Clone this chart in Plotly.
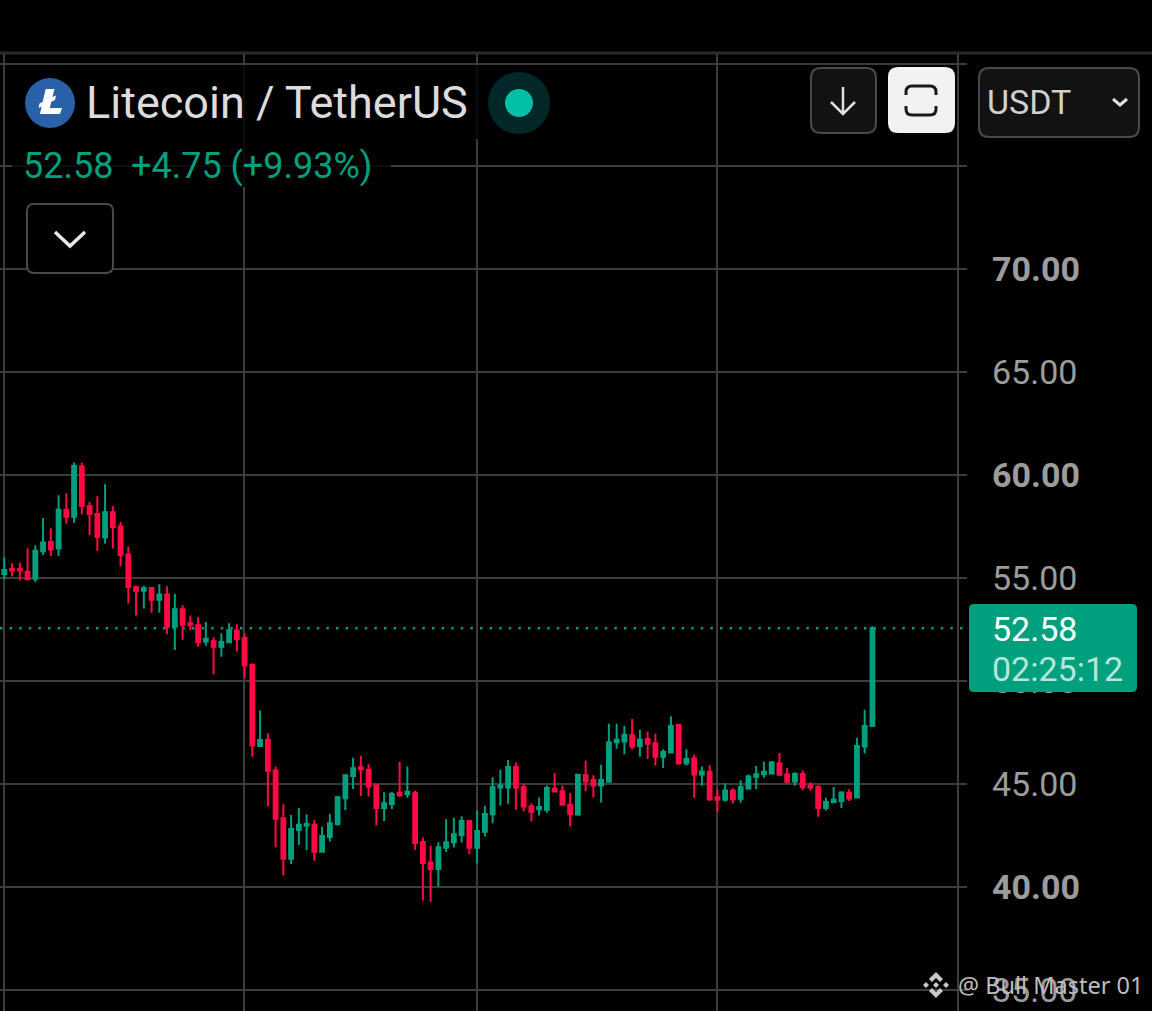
# litecoin candle chart, dark mobile view
import re
import plotly.graph_objs as go

W = 1152
H = 1011
GREEN = "#00a07f"
RED = "#ff0a45"

opens = [55.22, 55.46, 55.46, 55.32, 54.99, 56.32, 56.77, 56.45, 58.33, 58.00,
         60.43, 58.52, 58.13, 57.00, 58.21, 57.52, 56.16, 54.59, 54.40, 54.54,
         53.97, 54.22, 52.65, 53.50, 52.83, 52.73, 51.94, 51.95, 51.69, 51.90,
         52.47, 52.11, 50.80, 46.87, 47.16, 45.67, 43.36, 41.39, 42.79, 43.00,
         43.04, 41.73, 42.45, 43.08, 44.33, 45.41, 45.83, 45.71, 44.95, 43.86,
         44.05, 44.59, 44.52, 44.57, 42.21, 41.21, 40.90, 41.92, 42.19, 42.55,
         43.23, 41.92, 42.70, 43.55, 44.85, 44.85, 45.84, 44.87, 43.93, 43.80,
         43.77, 44.79, 44.67, 44.01, 43.54, 45.45, 45.22, 44.95, 45.13, 47.05,
         47.08, 47.39, 46.87, 47.20, 47.00, 46.34, 46.55, 47.89, 46.03, 46.26,
         45.48, 45.61, 44.38, 44.25, 44.70, 44.30, 44.80, 45.37, 45.50, 45.53,
         46.03, 45.48, 45.14, 45.51, 44.95, 44.88, 43.86, 44.14, 44.19, 44.59,
         44.36, 46.84, 47.84]
highs = [56.03, 55.74, 55.77, 56.47, 56.61, 57.94, 57.44, 59.04, 59.14, 60.63,
         60.63, 58.72, 58.99, 59.57, 58.52, 57.74, 56.55, 54.64, 54.64, 54.59,
         54.72, 54.62, 54.25, 53.70, 53.20, 53.12, 52.89, 52.15, 52.34, 52.83,
         52.78, 52.31, 50.88, 48.59, 47.49, 45.87, 44.04, 43.52, 43.85, 43.55,
         43.28, 42.95, 43.57, 44.44, 45.48, 46.29, 46.39, 45.98, 45.03, 44.62,
         44.65, 46.09, 45.87, 44.70, 42.42, 42.02, 42.19, 43.31, 43.38, 43.46,
         43.23, 43.73, 43.97, 45.35, 45.71, 46.19, 46.06, 45.03, 44.09, 44.37,
         44.95, 45.55, 44.93, 44.58, 45.51, 46.15, 45.45, 45.95, 47.94, 47.94,
         47.84, 48.18, 47.65, 47.57, 47.46, 46.71, 48.31, 47.89, 46.71, 46.44,
         45.87, 45.93, 44.77, 45.06, 44.82, 45.20, 45.48, 45.89, 46.11, 46.14,
         46.52, 45.80, 45.59, 45.67, 45.11, 44.96, 44.35, 44.87, 44.67, 44.77,
         47.26, 48.62, 52.68]
lows = [54.96, 55.09, 54.90, 54.96, 54.83, 56.14, 56.09, 56.09, 57.65, 57.71,
        58.12, 57.11, 56.34, 56.69, 56.45, 55.59, 53.78, 53.20, 53.54, 53.34,
        53.34, 52.29, 51.53, 52.02, 52.49, 51.69, 51.73, 50.35, 51.20, 51.89,
        51.45, 50.16, 46.34, 46.84, 43.93, 41.95, 40.58, 41.14, 42.06, 41.82,
        41.29, 41.73, 42.23, 42.99, 43.76, 44.78, 44.44, 44.41, 43.00, 43.23,
        43.81, 44.39, 44.35, 41.82, 39.36, 39.31, 40.04, 41.72, 41.94, 42.18,
        41.61, 41.17, 42.47, 43.12, 43.98, 44.06, 43.77, 43.70, 43.20, 43.49,
        43.62, 44.64, 44.01, 42.96, 43.48, 44.67, 44.37, 44.12, 45.10, 46.73,
        46.47, 46.70, 46.34, 46.24, 45.92, 45.80, 46.55, 45.95, 45.92, 44.35,
        44.93, 44.20, 43.67, 44.17, 44.07, 44.11, 44.74, 44.78, 45.32, 45.50,
        45.47, 45.05, 44.95, 44.72, 44.70, 43.43, 43.73, 44.11, 43.86, 44.19,
        44.36, 46.50, 47.84]
closes = [55.41, 55.38, 55.38, 54.96, 56.35, 56.74, 56.42, 58.33, 58.00, 60.46,
          58.52, 58.13, 57.03, 58.21, 57.49, 56.14, 54.59, 54.40, 54.52, 53.97,
          54.22, 52.65, 53.50, 52.75, 52.73, 51.90, 52.07, 51.69, 51.92, 52.49,
          52.05, 50.77, 46.89, 47.16, 45.66, 43.33, 41.39, 42.84, 43.04, 43.08,
          41.73, 42.50, 43.12, 44.38, 45.45, 45.79, 45.74, 44.90, 43.86, 44.09,
          44.54, 44.48, 44.64, 42.16, 41.19, 40.90, 41.95, 42.19, 42.58, 43.23,
          41.92, 42.74, 43.57, 44.86, 44.95, 45.84, 44.85, 43.93, 43.67, 43.90,
          44.83, 44.66, 44.01, 43.56, 45.47, 45.16, 44.95, 45.21, 47.05, 47.17,
          47.41, 46.84, 47.17, 46.97, 46.34, 46.58, 47.84, 46.03, 46.23, 45.48,
          45.61, 44.28, 44.25, 44.70, 44.28, 44.87, 45.38, 45.50, 45.61, 46.06,
          45.47, 45.13, 45.51, 44.88, 44.85, 43.86, 44.15, 44.25, 44.61, 44.32,
          46.86, 47.84, 52.58]
candle_idx = list(range(len(closes)))

last_price = 52.58
price_ticks = [35, 40, 45, 50, 55, 60, 65, 70, 75, 80]
price_labels = ["35.00", "<b>40.00</b>", "45.00", "50.00", "55.00", "<b>60.00</b>",
                "65.00", "<b>70.00</b>", "", ""]
time_ticks = [0, 30.93, 61, 92, 123]


# everything outside the plot is placed in screen pixels
def fx(px):
    return px / W


def fy(py):
    return 1 - py / H


def to_paper(d):
    return re.sub(r"([\d.]+),([\d.]+)",
                  lambda m: f"{float(m[1]) / W:.5f},{1 - float(m[2]) / H:.5f}", d)


def round_rect(x0, y0, x1, y1, r):
    return (f"M{x0 + r},{y0} L{x1 - r},{y0} Q{x1},{y0} {x1},{y0 + r} L{x1},{y1 - r} "
            f"Q{x1},{y1} {x1 - r},{y1} L{x0 + r},{y1} Q{x0},{y1} {x0},{y1 - r} "
            f"L{x0},{y0 + r} Q{x0},{y0} {x0 + r},{y0} Z")


def path_shape(d, fill=None, line=None, width=0):
    shape = dict(type="path", xref="paper", yref="paper", path=to_paper(d),
                 line=dict(color=line if line else "rgba(0,0,0,0)", width=width))
    if fill:
        shape["fillcolor"] = fill
    return shape


def circle(cx, cy, r, fill):
    return dict(type="circle", xref="paper", yref="paper", x0=fx(cx - r), x1=fx(cx + r),
                y0=fy(cy + r), y1=fy(cy - r), fillcolor=fill, line=dict(width=0))


def label(px, py, text, size, color, family="Roboto", anchor="left"):
    return dict(xref="paper", yref="paper", x=fx(px), y=fy(py), text=text, showarrow=False,
                xanchor=anchor, yanchor="middle", borderpad=0,
                font=dict(family=family, size=size, color=color))


fig = go.Figure(data=[go.Candlestick(
    x=candle_idx, open=opens, high=highs, low=lows, close=closes,
    increasing=dict(line=dict(color=GREEN, width=2), fillcolor=GREEN),
    decreasing=dict(line=dict(color=RED, width=2), fillcolor=RED),
    whiskerwidth=0,
    hoverinfo="skip",
    showlegend=False,
)])

shapes = [
    # top border and last price line
    dict(type="line", xref="paper", yref="paper", x0=0, x1=1, y0=fy(53), y1=fy(53),
         line=dict(color="#2a2a2a", width=3)),
    dict(type="line", xref="paper", yref="y", x0=0, x1=fx(966), y0=last_price, y1=last_price,
         layer="below", line=dict(color=GREEN, width=2.5, dash="2.4px,7.2px")),
    # legend backdrop dims the grid behind the title rows
    path_shape("M12,65 L556,65 L556,139 L391,139 L391,187 L12,187 Z", fill="rgba(0,0,0,0.8)"),
    # price tag
    path_shape(round_rect(969, 604, 1137, 692, 5), fill=GREEN),
    # logo and status dot
    circle(50, 103, 25, "#2a60a8"),
    path_shape("M45.7,89 L54.5,89 L52.5,97 L56,95.5 L55,100 L51.3,101.7 L49.8,108 L62,108 L60,114 "
               "L40,114 L41.6,106.5 L38.5,108 L39.5,103.5 L42.6,102 Z", fill="#ffffff"),
    circle(519, 103, 31, "#04282a"),
    circle(519, 103, 14, "#00bfa5"),
    # buttons
    path_shape(round_rect(811, 68, 876, 133, 10), fill="#121212", line="#4a4a4a", width=2),
    path_shape("M843,87 L843,113 M831,102 L843,114 L855,102", line="#e0e0e0", width=2.5),
    path_shape(round_rect(888, 67, 955, 133, 10), fill="#f2f2f2"),
    path_shape("M906,95 L906,92 Q906,86 912,86 L930,86 Q936,86 936,92 L936,95 "
               "M906,106 L906,109 Q906,115 912,115 L930,115 Q936,115 936,109 L936,106",
               line="#1a1a1a", width=3),
    path_shape(round_rect(979, 68, 1139, 137, 10), fill="#121212", line="#4a4a4a", width=2),
    path_shape("M1113,99 L1120,105 L1127,99", line="#e0e0e0", width=3),
    path_shape(round_rect(27, 204, 113, 273, 7), fill="#000000", line="#4a4a4a", width=2),
    path_shape("M55,232 L70,246 L85,232", line="#e8e8e8", width=3.5),
    # watermark mark
    path_shape("M936,972 L943,979 L940,982 L936,978 L932,982 L929,979 Z", fill="#c8c8c8"),
    path_shape("M936,998 L943,991 L940,988 L936,992 L932,988 L929,991 Z", fill="#c8c8c8"),
    path_shape("M936,982 L939,985 L936,988 L933,985 Z", fill="#c8c8c8"),
    path_shape("M926,982 L929,985 L926,988 L923,985 Z", fill="#c8c8c8"),
    path_shape("M946,982 L949,985 L946,988 L943,985 Z", fill="#c8c8c8"),
]

annotations = [
    label(85, 102, "Litecoin / TetherUS", 45, "#dcdcdc"),
    label(22, 166, "52.58", 36, GREEN),
    label(130, 166, "+4.75 (+9.93%)", 36, GREEN),
    label(986, 102, "USDT", 34, "#d0d0d0"),
    label(991, 629, "52.58", 34, "#ffffff"),
    label(991, 669, "02:25:12", 34, "#b5e6d9"),
    label(957, 985, "@ Bull Master 01", 23.5, "#bdbdbd", family="Noto Sans"),
]

fig.update_layout(
    width=W, height=H, autosize=False,
    margin=dict(l=0, r=0, t=0, b=0, pad=0),
    paper_bgcolor="#000000",
    plot_bgcolor="#000000",
    boxgap=0.3,
    showlegend=False,
    xaxis=dict(domain=[0, 967 / W], range=[-0.555, 124.2], rangeslider=dict(visible=False),
               tickvals=time_ticks, showticklabels=False, ticks="",
               showgrid=True, gridcolor="#3c3c3c", gridwidth=2, zeroline=False, showline=False),
    yaxis=dict(domain=[0, 1 - 53 / H], range=[34.0, 80.51], side="right",
               tickvals=price_ticks, ticktext=price_labels, ticks="", ticklabelstandoff=24,
               tickfont=dict(family="Roboto", size=34, color="#9c9c9c"),
               showgrid=True, gridcolor="#3c3c3c", gridwidth=2, zeroline=False, showline=False),
    shapes=shapes,
    annotations=annotations,
)

fig.write_html("out.html", config={"displayModeBar": False},
               post_script="document.body.style.margin='0';document.body.style.overflow='hidden';")
